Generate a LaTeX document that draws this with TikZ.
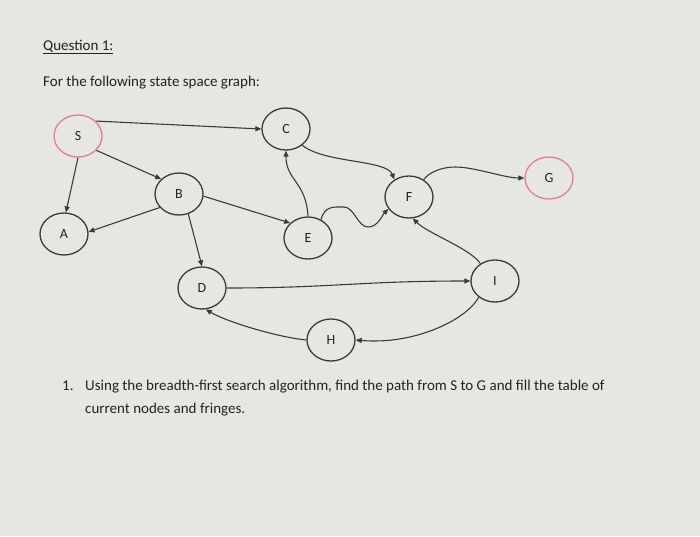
\documentclass[tikz,border=0pt]{standalone}
\usepackage{fontspec}
\setmainfont{Carlito}
\usetikzlibrary{shapes.geometric,arrows.meta}
\definecolor{bg}{HTML}{E6E6E3}
\definecolor{ink}{HTML}{3A3A3A}
\definecolor{txt}{HTML}{222222}
\definecolor{redring}{HTML}{E0808A}
\tikzset{
  st/.style={ellipse,draw=ink,line width=1.3pt,minimum width=48pt,minimum height=42pt,inner sep=0pt,font=\fontsize{14}{16}\selectfont,text=txt},
  goal/.style={st,draw=redring},
  arr/.style={draw=ink,line width=1.1pt,-{Triangle[length=6pt,width=5pt]}},
  txtnode/.style={anchor=base west,inner sep=0pt,text=txt,font=\fontsize{15}{18}\selectfont}
}
\begin{document}
\begin{tikzpicture}[x=1pt,y=-1pt]
\fill[bg] (0,0) rectangle (700,536);
\useasboundingbox (0,0) rectangle (700,536);
\node[txtnode] (q) at (43,50) {\underline{Question 1:}};
\node[txtnode] (f) at (43,86) {For the following state space graph:};
\node[txtnode] (n1) at (62,390) {1.};
\node[txtnode] (l1) at (85,390) {Using the breadth-first search algorithm, find the path from S to G and fill the table of};
\node[txtnode] (l2) at (85,413) {current nodes and fringes.};

\node[goal] (S) at (78,136) {S};
\node[st] (C) at (286,129) {C};
\node[st] (B) at (179,194) {B};
\node[st] (A) at (64,234) {A};
\node[st] (E) at (308,238) {E};
\node[st] (D) at (202,288) {D};
\node[st] (I) at (495,281) {I};
\node[st] (H) at (331,340) {H};
\node[st] (F) at (409,197) {F};
\node[goal] (G) at (549,178) {G};

\coordinate (ef1) at (344,207);
\coordinate (ef2) at (368,227);
\coordinate (fg) at (455,167);

\draw[arr] (S.40) -- (C.180);
\draw[arr] (S.-38) -- (B.140);
\draw[arr] (S.south) -- (A.85);
\draw[arr] (B.215) -- (A.5);
\draw[arr] (B.-65) -- (D.north);
\draw[arr] (B.-5) -- (E.140);
\draw[arr] (E.north) .. controls +(-2,-35) and +(0,30) .. (C.south);
\draw[arr] (C.-45) .. controls +(22,18) and +(-8,-20) .. (F.130);
\draw[arr] (E.55) .. controls +(4,-14) and +(-10,0) .. (ef1) .. controls +(10,0) and +(-10,0) .. (ef2) .. controls +(10,0) and +(-6,6) .. (F.210);
\draw[arr] (F.50) .. controls +(6,-8) and +(-12,0) .. (fg) .. controls +(20,0) and +(-20,0) .. (G.west);
\draw[arr] (I.130) .. controls +(-10,-15) and +(15,15) .. (F.-80);
\draw[arr] (D.east) .. controls +(105,0) and +(-110,0) .. (I.west);
\draw[arr] (I.-135) .. controls +(-12,22) and +(60,5) .. (H.east);
\draw[arr] (H.west) .. controls +(-30,-3) and +(20,12) .. (D.-80);
\end{tikzpicture}
\end{document}
